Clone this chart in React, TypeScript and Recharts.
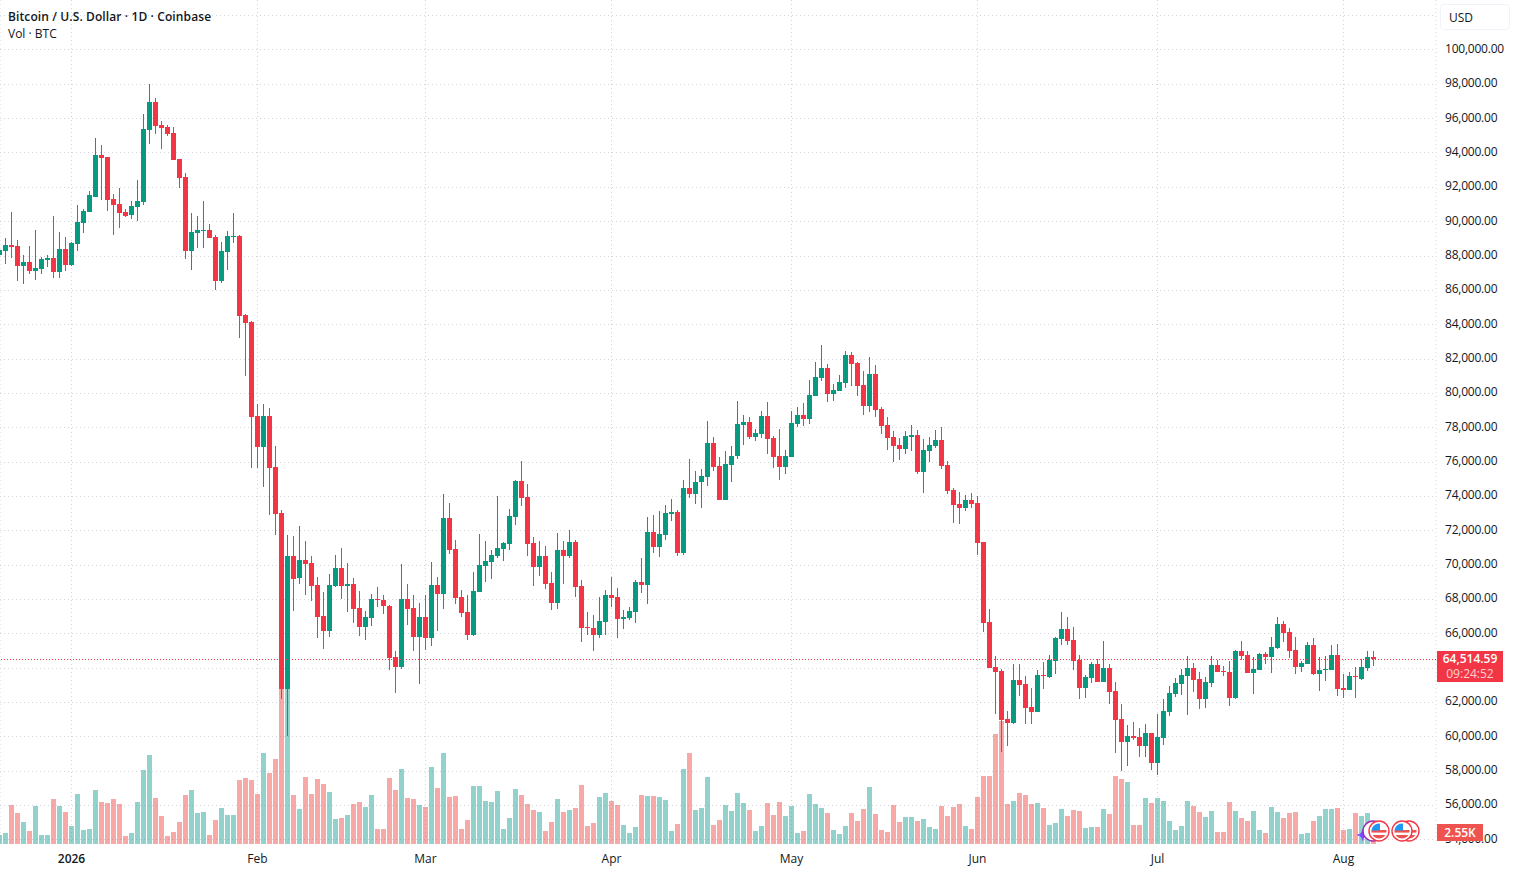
import React from "react";
import { ComposedChart, Bar, XAxis, YAxis, CartesianGrid, ReferenceLine } from "recharts";

const firstDay = -12; // days relative to 1 Jan 2026
const opens = [88050,88280,88630,88570,87400,87640,87110,87230,87750,87870,87050,88400,
87460,88690,89910,90550,91430,93880,93760,91310,91020,90550,
90380,90850,91140,95340,96970,95630,95510,95160,93650,92600,
88280,89330,89450,89500,89100,86530,88220,89100,89150,84550,
84140,78680,76870,78680,75710,73030,62770,70520,69240,70290,
70110,68830,67030,66150,68770,69820,68770,68890,67490,66380,
66910,68020,67960,67610,64640,64050,68020,67490,65800,66970,
65740,68830,68310,72740,70930,68130,67260,65920,68420,69940,
70170,70520,70930,71220,72790,74890,73960,71280,69880,70520,
68950,67780,70870,70520,71340,68770,66380,66330,65920,66680,
68250,68130,66850,66910,67260,69010,68830,71920,71050,71740,
72970,73090,70700,74480,74130,74830,75120,77100,75760,73780,
75820,76350,78150,78330,77450,77630,78680,77400,76350,75710,
76300,78230,78750,78520,79860,80910,81500,79980,80150,80620,
82250,81790,80500,79280,81140,79100,78170,77470,77000,76770,
77470,77590,75430,76650,76950,77300,75840,74380,73560,73330,
73800,73620,71350,66680,64060,63820,61030,60800,63300,63070,
61730,61440,63590,63480,64410,65690,66270,65630,64460,62830,
63420,64230,63180,64000,62660,61030,59690,60040,59980,59460,
60210,58460,59920,61440,62480,63070,63530,64000,63360,62190,
63130,64170,63820,63770,62250,64990,64760,63710,63880,64810,
64640,65160,66560,66100,65050,64060,64230,65340,63650,63880,
63880,64760,62830,62720,63530,63360,64000,64640];
const highs = [88530,89040,90550,88920,88050,88570,89500,87930,88050,90320,89390,89100,
88810,90960,90730,91780,94870,94460,93760,91600,91950,90730,
91200,92420,96270,98020,97200,95860,95630,95510,93650,92830,
90500,90320,91200,89850,89210,88810,89450,90500,89210,84610,
84190,79380,79380,79140,76930,73200,71740,71690,72270,71400,
70520,69300,68420,69470,70580,70990,70110,69240,68480,67320,
68310,68720,68250,67670,64990,70060,68890,68250,67780,68250,
70170,69300,74130,73610,71450,68540,68250,69590,71800,71400,
70870,74020,71340,73260,74950,76050,74720,71630,71400,71100,
69590,71860,71400,72040,71450,69120,67260,67080,68130,68540,
69300,68660,67380,67550,69120,70410,72790,72910,73140,73490,
73840,73200,74950,76170,75470,75590,78390,77450,76290,76640,
76930,79550,78740,78620,77920,78970,79490,77510,77920,76700,
78990,79220,79450,80800,81850,82840,81730,80560,81090,82490,
82430,81850,81320,82140,81670,79220,78640,77820,77410,77820,
78170,77880,77350,77470,77880,78050,76070,74500,74260,74090,
74200,74030,71350,67440,64700,63940,61490,64230,64230,63530,
62830,63880,64350,64760,65800,67260,66970,66390,64760,63590,
64350,64520,65570,64230,63180,61900,60680,60850,60500,60740,
60210,61320,62190,62950,63420,63940,64700,64290,63770,63480,
64700,64470,64120,64410,65050,65570,64990,64640,64870,64930,
65800,66970,66740,66330,65800,64410,65510,65750,64640,64700,
65340,65400,63650,63770,64060,64520,64990,64990];
const lows = [87850,87520,87870,86530,86360,86940,86590,86940,87350,86710,86710,87110,
87400,88280,89330,90550,91430,91250,90610,89210,89620,90260,
90150,90030,90960,94520,95100,94230,94990,93590,91950,87810,
87170,88450,88450,89040,86000,86410,87170,88750,83210,81010,
75650,75650,74540,72910,71740,62190,60030,67320,68890,68250,
67900,65740,65100,65800,68720,68020,67260,66620,65860,65630,
66440,67550,67140,63880,62540,63940,66500,64990,63060,65050,
65280,66150,67430,70640,67730,66970,65630,65860,68420,69010,
69180,70410,70230,70870,72330,73430,70520,68770,69360,68600,
67380,67430,68890,70410,68130,65510,65920,64990,65740,65920,
67550,65740,66270,66790,66620,68370,67730,70700,70460,71450,
72560,70520,70580,73900,73550,73320,74600,75470,73780,73780,
74830,76170,76990,77340,77220,77400,76460,75650,74950,75300,
76300,78050,78110,78230,79860,80740,79510,79570,80150,80330,
80450,79860,78750,78930,78640,77640,76710,76010,76130,76480,
76650,75310,74200,76010,76830,75600,74150,72450,72400,73150,
73330,70590,66100,64000,61320,59100,59450,60740,62370,60740,
60740,61440,62770,63420,63650,65340,65340,63880,62190,62250,
63130,63180,63180,61900,59050,58000,58290,59800,58820,58820,
58060,57770,59510,61200,62310,62430,61260,62600,61610,61670,
62890,63770,63530,61790,62190,64470,63710,62480,63880,64230,
63710,65110,65510,64580,63650,63770,64230,63590,62660,63240,
63880,62370,62250,62720,62250,63300,63830,64120];
const closes = [88340,88630,88530,87400,87640,87110,87290,87810,87870,87050,88400,87460,
88750,89970,90610,91550,93880,93700,91250,90960,90500,90320,
90900,91200,95400,96970,95570,95450,95100,93590,92540,88280,
89390,89500,89500,89040,86530,88280,89150,89150,84490,84080,
78620,76870,78680,75650,72970,62770,70520,69180,70290,70060,
68770,66970,66150,68830,69820,68770,68890,67430,66380,66970,
68020,67960,67610,64580,64050,68020,67430,65800,66970,65740,
68830,68310,72740,70870,68070,67200,65920,68480,69990,70230,
70580,70990,71280,72850,74890,73900,71220,69880,70520,68890,
67780,70870,70520,71340,68720,66330,66330,65920,66730,68250,
68070,66850,66970,67320,69010,68830,71920,71050,71800,73030,
73090,70700,74480,74130,74830,75180,77100,75710,73780,75880,
76350,78210,78330,77450,77690,78680,77340,76290,75710,76350,
78290,78750,78520,79920,80970,81500,79980,80210,80680,82250,
81730,80450,79280,81140,79050,78110,77410,76950,76770,77530,
77590,75430,76710,77000,77300,75780,74320,73500,73330,73800,
73560,71290,66620,64000,63770,60970,60800,63300,63010,61670,
61440,63590,63530,64460,65750,66270,65570,64410,62830,63480,
64230,63180,64000,62600,60970,59690,60040,59920,59460,60210,
58460,59980,61490,62540,63130,63590,64000,63300,62190,63180,
64170,63770,63770,62250,64990,64700,63710,63940,64810,64640,
65220,66560,66040,64990,64060,64290,65340,63650,63880,63940,
64760,62780,62720,63530,63480,64060,64640,64514.59];
const volumesK = [2.09,2.55,9.05,7.19,5.10,3.02,8.82,2.09,2.09,10.44,8.82,7.42,
4.18,11.60,3.25,3.48,12.53,9.74,9.51,10.44,9.28,1.86,
2.55,9.74,17.17,20.65,10.67,6.50,1.86,2.78,5.10,11.37,
12.53,7.19,7.42,2.09,5.57,8.35,6.73,6.73,14.85,15.31,
14.85,11.60,21.11,16.47,19.72,35.96,35.96,11.37,8.12,15.54,
11.60,15.08,13.92,12.06,5.80,6.03,6.73,9.28,9.74,8.58,
11.37,3.48,3.48,15.31,12.53,17.40,10.67,10.44,9.05,8.58,
17.86,12.99,21.11,10.90,11.14,3.48,5.57,13.46,13.46,9.98,
9.74,12.30,3.48,6.03,12.76,11.37,9.28,7.89,7.42,3.02,
5.10,10.44,7.42,7.89,8.35,13.69,4.18,4.87,10.90,11.83,
9.98,9.05,4.41,2.55,3.94,11.37,11.14,11.14,10.90,10.21,
3.02,4.64,17.40,21.11,7.89,8.35,15.54,4.41,5.57,9.05,
7.66,11.83,9.51,7.89,3.02,4.18,9.51,6.73,9.74,6.50,
8.82,2.55,3.02,11.60,9.28,8.35,7.19,3.25,2.32,4.18,
7.19,5.34,8.12,13.22,6.96,3.25,2.78,9.05,5.10,6.26,
6.26,5.34,5.80,3.94,3.48,8.82,6.50,8.58,9.28,4.18,
3.48,10.90,15.78,15.78,25.52,28.54,9.28,9.98,11.83,11.37,
9.28,9.51,8.35,4.41,4.87,8.12,6.50,7.89,7.66,3.71,
3.94,3.94,8.12,6.96,15.78,15.08,14.38,4.41,4.41,10.67,
9.51,10.67,9.98,5.34,3.25,4.18,9.98,8.82,7.42,6.26,
7.66,2.78,2.78,9.74,7.66,6.03,5.34,7.66,3.25,2.55,
8.58,7.42,6.03,7.19,7.42,2.32,2.55,5.34,6.50,8.12,
8.12,8.35,3.25,3.48,7.19,6.50,7.19,2.55];

const monthTickDays = [0, 31, 59, 90, 120, 151, 181, 212];
const monthTickLabels = ["2026", "Feb", "Mar", "Apr", "May", "Jun", "Jul", "Aug"];
const priceTicks = [54000,56000,58000,60000,62000,64000,66000,68000,70000,72000,74000,76000,78000,80000,82000,84000,86000,88000,90000,92000,94000,96000,98000,100000,102000];
const lastPrice = 64514.59;

const UP = "#089981";
const DOWN = "#f23645";
const UP_VOL = "rgba(38,166,154,0.5)";
const DOWN_VOL = "rgba(239,83,80,0.5)";
const GRID = "#d1d4dc";
const TEXT = "#131722";
const FONT = "'Open Sans', 'Noto Sans', sans-serif";
const PLOT_H = 844;
const YMIN = 53755;
const YMAX = 102910;

const chartData = opens.map((o, i) => ({
  day: firstDay + i,
  open: o,
  high: highs[i],
  low: lows[i],
  close: closes[i],
  vol: volumesK[i],
}));

const XDOMAIN: [number, number] = [-71.5 / 6, (1436 - 71.5) / 6];

function Candle(props: any) {
  const { x, y, width, height, payload } = props;
  const up = payload.close >= payload.open;
  const color = up ? UP : DOWN;
  const unit = height / (payload.high - payload.low);
  const top = y + (payload.high - Math.max(payload.open, payload.close)) * unit;
  const bottom = y + (payload.high - Math.min(payload.open, payload.close)) * unit;
  const cx = Math.floor(x + width / 2);
  const bt = Math.round(top);
  const bb = Math.max(Math.round(bottom), bt + 1);
  return (
    <g>
      <rect x={cx} y={Math.round(y)} width={1} height={Math.max(1, Math.round(height))} fill={color} />
      <rect x={cx - 2} y={bt} width={5} height={bb - bt} fill={color} />
    </g>
  );
}

function VolumeBar(props: any) {
  const { x, y, width, payload } = props;
  const up = payload.close >= payload.open;
  const cx = Math.floor(x + width / 2);
  return <rect x={cx - 2} y={Math.round(y)} width={5} height={PLOT_H - Math.round(y)} fill={up ? UP_VOL : DOWN_VOL} />;
}

function LastPriceLine(props: any) {
  const { x1, x2, y1 } = props;
  const y = Math.floor(y1) + 0.5;
  return <line x1={x1} x2={x2} y1={y} y2={y} stroke={DOWN} strokeWidth={1} strokeDasharray="1 2" />;
}

function PriceTick(props: any) {
  const { y, payload } = props;
  if (payload.value > 100000) return null;
  return (
    <text x={1445} y={y - 1.5} dominantBaseline="central" fontFamily={FONT} fontSize={12} letterSpacing={-0.22} fill={TEXT}>
      {payload.value.toLocaleString("en-US", { minimumFractionDigits: 2, maximumFractionDigits: 2 })}
    </text>
  );
}

function TimeTick(props: any) {
  const { x, payload } = props;
  const label = monthTickLabels[monthTickDays.indexOf(payload.value)];
  return (
    <text x={x} y={858} textAnchor="middle" dominantBaseline="central" fontFamily={FONT} fontSize={12}
      fontWeight={label === "2026" ? 600 : 400} fill={TEXT}>
      {label}
    </text>
  );
}

function Flag({ cx, cy }: { cx: number; cy: number }) {
  const id = `flag${cx}`;
  return (
    <g>
      <circle cx={cx} cy={cy} r={10} fill="#fff" stroke={DOWN} strokeWidth={1.4} />
      <clipPath id={id}><circle cx={cx} cy={cy} r={7.6} /></clipPath>
      <g clipPath={`url(#${id})`}>
        <rect x={cx - 8} y={cy - 8} width={16} height={16} fill="#fff" />
        <rect x={cx - 8} y={cy - 1} width={16} height={2.6} fill="#ef5350" />
        <rect x={cx - 8} y={cy + 4} width={16} height={4} fill="#ef5350" />
        <rect x={cx - 8} y={cy - 8} width={9} height={7.5} fill="#2196f3" />
      </g>
    </g>
  );
}

// Grid rows sit on whole pixels so the dots stay crisp.
const snapGridY = () => priceTicks.map((t) => Math.floor((PLOT_H * (YMAX - t)) / (YMAX - YMIN)) + 0.5);

export default function App() {
  return (
    <div style={{ position: "absolute", left: 0, top: 0, width: 1514, height: 872, background: "#fff", overflow: "hidden" }}>
      <ComposedChart width={1514} height={872} data={chartData} margin={{ top: 0, right: 0, bottom: 0, left: 0 }}>
        <CartesianGrid yAxisId="price" xAxisId="time" stroke={GRID} strokeDasharray="1 3" horizontalCoordinatesGenerator={snapGridY} />
        <XAxis xAxisId="time" dataKey="day" type="number" domain={XDOMAIN} allowDataOverflow ticks={monthTickDays}
          interval={0} height={28} axisLine={false} tickLine={false} tick={<TimeTick />} />
        <XAxis xAxisId="volx" dataKey="day" type="number" domain={XDOMAIN} allowDataOverflow ticks={monthTickDays} hide />
        <YAxis yAxisId="price" orientation="right" type="number" domain={[YMIN, YMAX]} ticks={priceTicks} interval={0}
          width={78} axisLine={false} tickLine={false} tick={<PriceTick />} />
        <YAxis yAxisId="vol" type="number" domain={[0, 195.81]} hide />
        <Bar xAxisId="volx" yAxisId="vol" dataKey="vol" barSize={5} isAnimationActive={false} shape={<VolumeBar />} />
        <ReferenceLine xAxisId="time" yAxisId="price" y={lastPrice} stroke={DOWN} shape={<LastPriceLine />} />
        <Bar xAxisId="time" yAxisId="price" dataKey={(d: any) => [d.low, d.high]} barSize={5} isAnimationActive={false} shape={<Candle />} />
      </ComposedChart>

      <div style={{ position: "absolute", left: 8, top: 8, fontFamily: FONT, fontSize: 12, fontWeight: 600, letterSpacing: 0.11, color: TEXT, lineHeight: "17px", whiteSpace: "nowrap" }}>
        Bitcoin / U.S. Dollar · 1D · Coinbase
      </div>
      <div style={{ position: "absolute", left: 8, top: 25, fontFamily: FONT, fontSize: 12, color: TEXT, lineHeight: "17px", whiteSpace: "nowrap" }}>
        Vol · BTC
      </div>
      <div style={{ position: "absolute", left: 1440, top: 4, width: 70, height: 26, boxSizing: "border-box", border: "1px solid #f0f3fa", borderRadius: 4, background: "#fff", fontFamily: FONT, fontSize: 12, color: TEXT, lineHeight: "25px", paddingLeft: 8 }}>
        USD
      </div>
      <div style={{ position: "absolute", left: 1437, top: 651, width: 66, height: 31, background: DOWN, color: "#fff", fontFamily: FONT, fontSize: 12, fontWeight: 600, textAlign: "center", lineHeight: "15px" }}>
        <div>64,514.59</div>
        <div style={{ opacity: 0.75, fontWeight: 400 }}>09:24:52</div>
      </div>
      <div style={{ position: "absolute", left: 1437, top: 824, width: 46, height: 17, background: "#ef5350", color: "#fff", fontFamily: FONT, fontSize: 12, fontWeight: 600, textAlign: "center", lineHeight: "17px" }}>
        2.55K
      </div>
      <svg width={1514} height={872} style={{ position: "absolute", left: 0, top: 0, pointerEvents: "none" }}>
        <path d="M1362.7 829.5 Q1363.5 834.5 1368 835 Q1363.5 835.5 1362.7 840.5 Q1362 835.5 1357.5 835 Q1362 834.5 1362.7 829.5Z" fill="#7c4dff" stroke="#7c4dff" />
        <circle cx={1373} cy={831} r={10} fill="#fff" stroke="#9c27b0" strokeWidth={1.4} />
        <Flag cx={1379} cy={831} />
        <Flag cx={1409} cy={831} />
        <Flag cx={1402} cy={831} />
      </svg>
    </div>
  );
}
